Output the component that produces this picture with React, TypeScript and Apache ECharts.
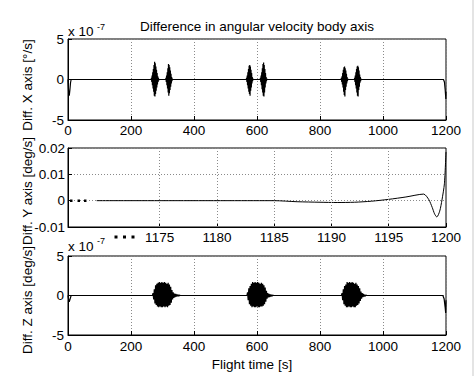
import React, { useEffect, useRef } from 'react';
import * as echarts from 'echarts';

// ---------- data ----------
// Panel 1: Diff. X axis (units of 1e-7 deg/s)
const xStartT = [0, 1, 2, 4, 6, 8, 10];
const xStartV = [0, -0.8, -1.6, -2.0, -1.3, -0.4, 0];
const xBurstStarts = [264, 310, 566, 610, 867, 909]; // s, 1 s sampling
const xBurst1 = [0, 0.2, -0.3, 0.5, -0.7, 0.9, -1.1, 1.3, -1.5, 1.8, -2.0, 2.2, -2.1, 2.0, -1.8, 1.6, -1.4, 1.2, -1.0, 0.8, -0.6, 0.4, -0.3, 0.2, -0.1, 0];
const xBurst2 = [0, 0.2, -0.3, 0.5, -0.7, 0.9, -1.1, 1.4, -1.6, 1.9, -2.0, 1.8, -1.7, 1.5, -1.3, 1.1, -0.9, 0.7, -0.5, 0.3, -0.2, 0.1, 0];
const xBurst3 = [0, 0.2, -0.3, 0.5, -0.7, 0.9, -1.1, 1.3, -1.5, 1.7, -1.8, 1.8, -2.0, 1.6, -1.4, 1.2, -1.0, 0.8, -0.5, 0.3, -0.2, 0.1, 0];
const xBurst4 = [0, 0.2, -0.3, 0.5, -0.7, 0.9, -1.2, 1.4, -1.6, 1.9, -2.0, 2.1, -2.1, 1.8, -1.6, 1.3, -1.0, 0.8, -0.5, 0.3, -0.2, 0.1, 0];
const xBurst5 = [0, 0.2, -0.3, 0.4, -0.6, 0.8, -1.0, 1.2, -1.5, 1.5, -1.9, 1.6, -2.1, 1.4, -1.3, 1.1, -0.9, 0.7, -0.5, 0.3, -0.2, 0.1, 0];
const xBurst6 = [0, 0.2, -0.3, 0.5, -0.7, 0.9, -1.1, 1.3, -1.6, 1.6, -2.0, 1.7, -2.1, 1.5, -1.3, 1.1, -0.9, 0.6, -0.4, 0.3, -0.2, 0.1, 0];
const xEndT = [1192, 1195, 1197.5, 1199.5, 1200];
const xEndV = [0, -0.3, -1.3, -2.4, -1.5];

// Panel 2: Diff. Y axis (deg/s), zoom on the last seconds
const yT = [1169.5, 1185, 1187, 1189, 1190.5, 1192, 1193.5, 1195, 1196.5, 1198.05, 1198.5, 1198.8, 1199.0, 1199.2, 1199.45, 1199.65, 1199.86, 1200];
const yV = [0, 0, -0.0004, -0.0006, -0.0007, -0.0006, -0.0002, 0.0005, 0.0014, 0.0025, 0.0004, -0.0026, -0.005, -0.0062, -0.004, 0.0003, 0.0064, 0.0185];

// Panel 3: Diff. Z axis (units of 1e-7 deg/s)
const zStartT = [0, 2, 4, 7, 10];
const zStartV = [0, -0.5, -0.8, -0.4, 0];
const zBurstStarts = [268, 568, 868]; // s, 2 s sampling
const zBurst1 = [0, 0.3, -0.5, 0.8, -1.0, 1.3, -1.2, 1.5, -1.4, 1.6, -1.5, 1.7, -1.4, 1.6, -1.5, 1.7, -1.5, 1.6, -1.4, 1.7, -1.5, 1.6, -1.4, 1.5, -1.5, 1.6, -1.3, 1.4, -1.2, 1.1, -0.9, 0.7, -0.5, 0.4, -0.3, 0.25, -0.2, 0.2, -0.15, 0.15, -0.1, 0.1, -0.1, 0.05, 0];
const zBurst2 = [0, 0.4, -0.6, 0.9, -1.1, 1.2, -1.3, 1.5, -1.5, 1.7, -1.4, 1.6, -1.5, 1.7, -1.5, 1.6, -1.4, 1.7, -1.5, 1.6, -1.5, 1.5, -1.4, 1.6, -1.4, 1.5, -1.3, 1.3, -1.1, 1.0, -0.8, 0.6, -0.4, 0.3, -0.25, 0.2, -0.2, 0.15, -0.15, 0.1, -0.1, 0.05, 0];
const zBurst3 = [0, 0.3, -0.6, 0.8, -1.1, 1.2, -1.3, 1.4, -1.5, 1.7, -1.5, 1.6, -1.4, 1.7, -1.5, 1.6, -1.5, 1.7, -1.4, 1.6, -1.5, 1.5, -1.5, 1.6, -1.3, 1.4, -1.2, 1.2, -1.0, 0.9, -0.7, 0.5, -0.4, 0.3, -0.2, 0.2, -0.15, 0.1, -0.1, 0.05, 0];
const zEndT = [1190, 1194, 1197, 1199, 1200];
const zEndV = [0, -0.4, -1.4, -2.2, -0.6];

const yZoomTicks = [1175, 1180, 1185, 1190, 1195, 1200];

// ---------- helpers ----------
const zip = (t: number[], v: number[]) => t.map((tt, i) => [tt, v[i]]);
const seg = (start: number, step: number, vals: number[]) => vals.map((v, i) => [start + i * step, v]);

const FONT = 'Liberation Sans, Arial, Helvetica, sans-serif';
const FS = 13.5;

export default function App() {
  const ref = useRef<HTMLDivElement>(null);
  useEffect(() => {
    if (!ref.current) return;
    const chart = echarts.init(ref.current, undefined, { renderer: 'svg' });

    const xBursts = [xBurst1, xBurst2, xBurst3, xBurst4, xBurst5, xBurst6];
    const xData = [
      ...zip(xStartT, xStartV),
      ...xBursts.flatMap((b, i) => seg(xBurstStarts[i], 1, b)),
      ...zip(xEndT, xEndV),
    ];
    const zBursts = [zBurst1, zBurst2, zBurst3];
    const zData = [
      ...zip(zStartT, zStartV),
      ...zBursts.flatMap((b, i) => seg(zBurstStarts[i], 2, b)),
      ...zip(zEndT, zEndV),
    ];
    const yData = zip(yT, yV);

    const L = 68, W = 378;
    const grids = [
      { left: L, top: 39, width: W, height: 81 },
      { left: L, top: 148, width: W, height: 79 },
      { left: L, top: 256, width: W, height: 79 },
    ].map((g) => ({ ...g, show: true, borderColor: '#000', borderWidth: 1, backgroundColor: '#fff' }));

    const fmt = (v: number) => String(Math.round(v * 1e6) / 1e6);
    const axisLine = { show: true, onZero: false, lineStyle: { color: '#000', width: 1 } };
    const tick = { show: true, inside: true, length: 4, lineStyle: { color: '#000', width: 1 } };
    const dotted = { color: '#8a8a8a', width: 1, type: [1, 2] };
    const split = { show: true, lineStyle: dotted };
    const lab = (margin: number) => ({ color: '#000', fontSize: FS, fontFamily: FONT, margin, formatter: fmt });
    const lineStyle = { color: '#000', width: 1.2 };

    const option: any = {
      animation: false,
      backgroundColor: '#fff',
      grid: grids,
      xAxis: [
        { gridIndex: 0, type: 'value', min: 0, max: 1200, interval: 200, axisLine, axisTick: tick, splitLine: split, axisLabel: lab(3) },
        {
          gridIndex: 1, type: 'value', min: 1167, max: 1200, axisLine,
          axisTick: { ...tick, customValues: yZoomTicks },
          splitLine: { show: false },
          axisLabel: { ...lab(3), customValues: yZoomTicks },
        },
        { gridIndex: 2, type: 'value', min: 0, max: 1200, interval: 200, axisLine, axisTick: tick, splitLine: split, axisLabel: lab(4) },
      ],
      yAxis: [
        { gridIndex: 0, type: 'value', min: -5, max: 5, interval: 5, axisLine, axisTick: tick, splitLine: split, axisLabel: lab(4) },
        { gridIndex: 1, type: 'value', min: -0.01, max: 0.02, interval: 0.01, axisLine, axisTick: tick, splitLine: split, axisLabel: lab(3) },
        { gridIndex: 2, type: 'value', min: -5, max: 5, interval: 5, axisLine, axisTick: tick, splitLine: split, axisLabel: lab(4) },
      ],
      series: [
        { type: 'line', xAxisIndex: 0, yAxisIndex: 0, data: xData, showSymbol: false, lineStyle },
        {
          type: 'line', xAxisIndex: 1, yAxisIndex: 1, data: yData, showSymbol: false, smooth: 0.25, lineStyle: { color: '#000', width: 1 },
          markLine: {
            silent: true, symbol: ['none', 'none'], label: { show: false }, lineStyle: dotted, animation: false,
            data: yZoomTicks.slice(0, -1).map((v) => ({ xAxis: v })),
          },
        },
        { type: 'line', xAxisIndex: 2, yAxisIndex: 2, data: zData, showSymbol: false, lineStyle },
      ],
      graphic: [
        { type: 'rect', shape: { x: 472, y: 0, width: 2, height: 376 }, style: { fill: '#e4e4e4' }, silent: true },
        { type: 'text', x: 257, y: 26, style: { text: 'Difference in angular velocity body axis', font: `${FS}px ${FONT}`, fill: '#000', align: 'center', verticalAlign: 'middle' } },
        { type: 'text', x: 252, y: 364, style: { text: 'Flight time [s]', font: `${FS}px ${FONT}`, fill: '#000', align: 'center', verticalAlign: 'middle' } },
        // exponent labels
        { type: 'text', x: 68, y: 31.5, style: { text: 'x 10', font: `${FS}px ${FONT}`, fill: '#000', align: 'left', verticalAlign: 'middle' } },
        { type: 'text', x: 97, y: 27, style: { text: '-7', font: `9px ${FONT}`, fill: '#000', align: 'left', verticalAlign: 'middle' } },
        { type: 'text', x: 68, y: 246, style: { text: 'x 10', font: `${FS}px ${FONT}`, fill: '#000', align: 'left', verticalAlign: 'middle' } },
        { type: 'text', x: 97, y: 241, style: { text: '-7', font: `9px ${FONT}`, fill: '#000', align: 'left', verticalAlign: 'middle' } },
        // rotated axis names
        { type: 'text', x: 27, y: 85, rotation: Math.PI / 2, style: { text: 'Diff. X axis [°/s]', font: `${FS}px ${FONT}`, fill: '#000', align: 'center', verticalAlign: 'middle' } },
        { type: 'text', x: 27, y: 191, rotation: Math.PI / 2, style: { text: 'Diff. Y axis [deg/s]', font: `${FS}px ${FONT}`, fill: '#000', align: 'center', verticalAlign: 'middle' } },
        { type: 'text', x: 27, y: 300, rotation: Math.PI / 2, style: { text: 'Diff. Z axis [deg/s]', font: `${FS}px ${FONT}`, fill: '#000', align: 'center', verticalAlign: 'middle' } },
        // broken-axis dots
        { type: 'rect', shape: { x: 70, y: 199.5, width: 2.5, height: 2.5 }, style: { fill: '#000' } },
        { type: 'rect', shape: { x: 77.5, y: 199.5, width: 2.5, height: 2.5 }, style: { fill: '#000' } },
        { type: 'rect', shape: { x: 84, y: 199.5, width: 2.5, height: 2.5 }, style: { fill: '#000' } },
        { type: 'rect', shape: { x: 114.5, y: 235.5, width: 3, height: 3 }, style: { fill: '#000' } },
        { type: 'rect', shape: { x: 123, y: 235.5, width: 3, height: 3 }, style: { fill: '#000' } },
        { type: 'rect', shape: { x: 131.5, y: 235.5, width: 3, height: 3 }, style: { fill: '#000' } },
      ],
    };
    chart.setOption(option);
    return () => chart.dispose();
  }, []);
  return <div ref={ref} style={{ position: 'fixed', left: 0, top: 0, width: 474, height: 376 }} />;
}
